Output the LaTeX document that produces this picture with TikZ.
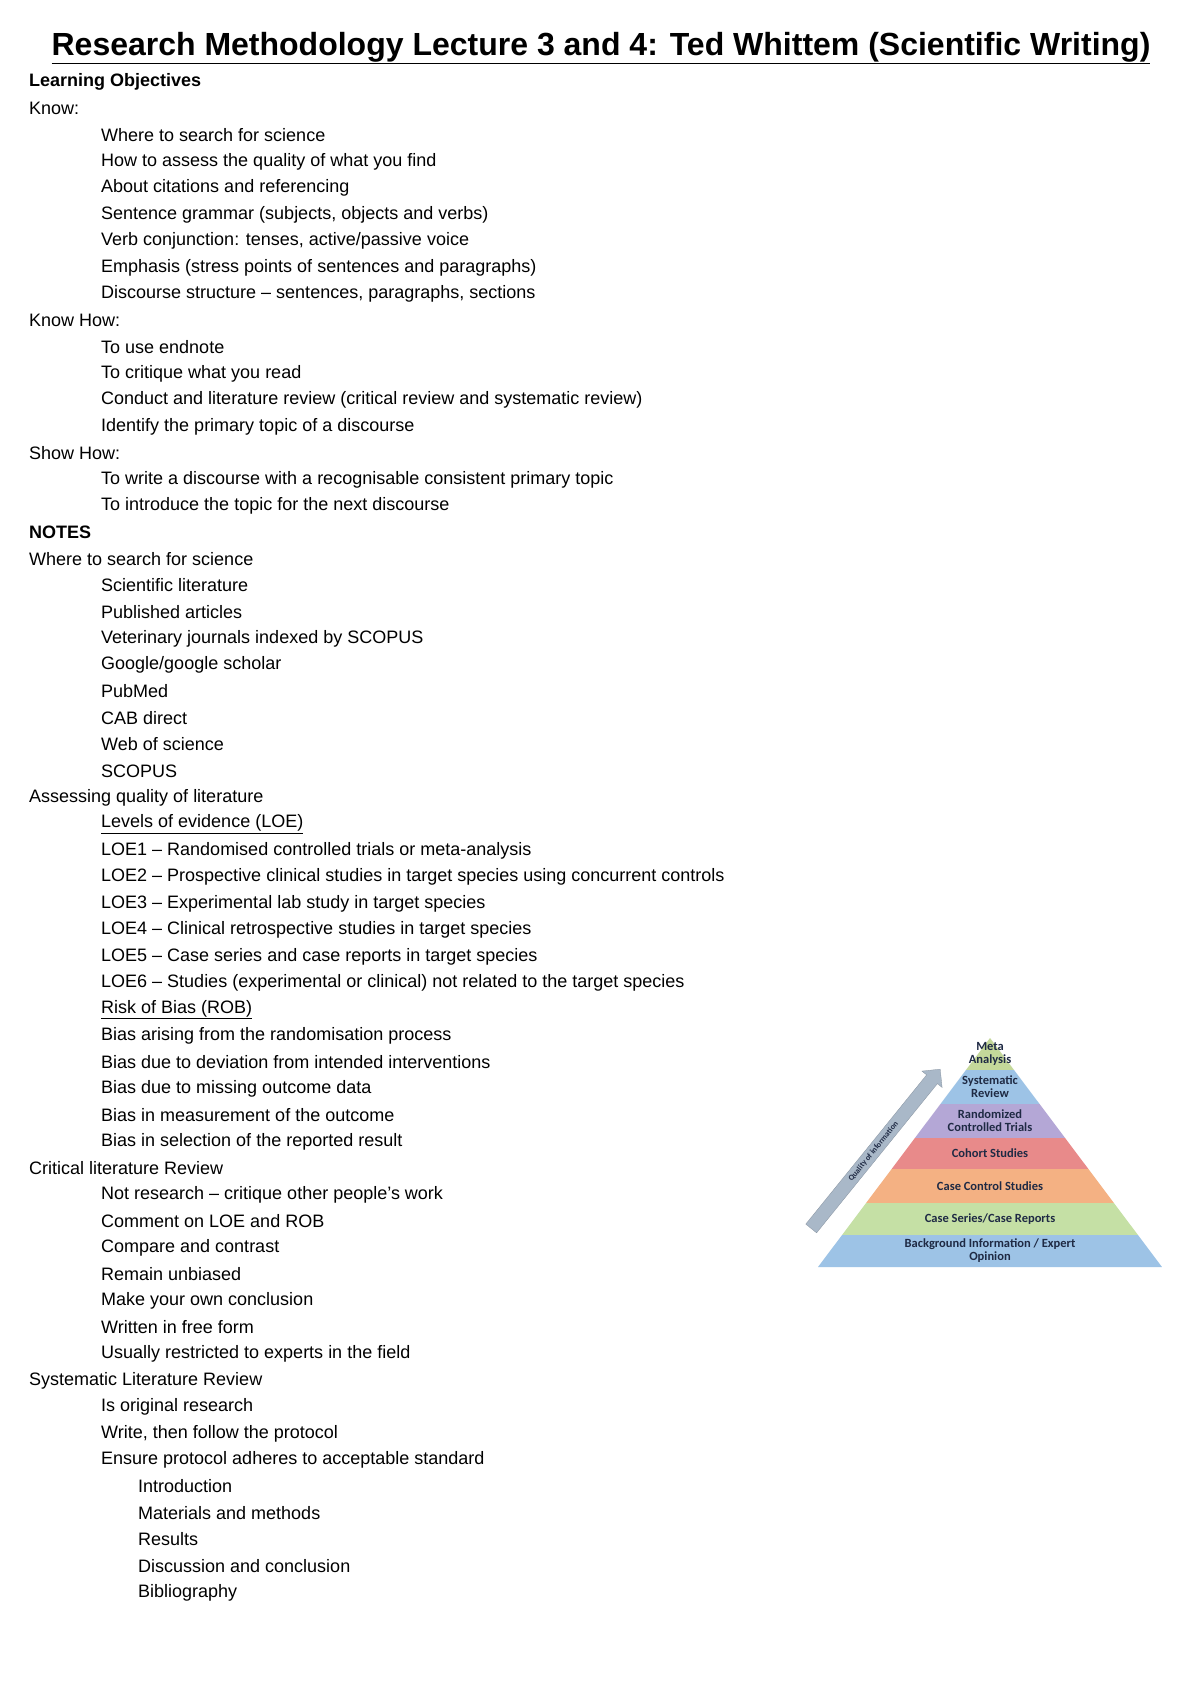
\documentclass[tikz,border=0pt]{standalone}
\usepackage{fontspec}
\setmainfont{Liberation Sans}
\newfontfamily\pyrfont{Carlito}
\usetikzlibrary{shapes.arrows}
\definecolor{gmeta}{HTML}{C4D89A}
\definecolor{bsys}{HTML}{9DC3E6}
\definecolor{prct}{HTML}{B4A7D6}
\definecolor{rcoh}{HTML}{E88A8A}
\definecolor{occ}{HTML}{F4B183}
\definecolor{gcs}{HTML}{C5E0A5}
\definecolor{bbg}{HTML}{9DC3E6}
\definecolor{ptxt}{HTML}{1F2A44}
\definecolor{arr}{HTML}{A9B8C8}
\newcommand\tline[3]{\node[txt] (l#1) at (#2,{82+26.5*#1}) {#3};}
\newcommand\band[5]{% #1 name, #2 ytop, #3 ybot, #4 color, #5 text
  \fill[#4] ({990-0.751*(#2-1038)},#2) -- ({990+0.751*(#2-1038)},#2) -- ({990+0.751*(#3-1038)},#3) -- ({990-0.751*(#3-1038)},#3) -- cycle;
  \node[ptext] (#1) at (990,{(#2+#3)/2}) {#5};}
\tikzset{
  txt/.style={anchor=west,inner sep=0pt,font=\fontsize{18}{20}\selectfont},
  ptext/.style={align=center,inner sep=0pt,text=ptxt,font=\pyrfont\bfseries\fontsize{12.5}{13}\selectfont}
}
\begin{document}
\begin{tikzpicture}[x=1pt,y=-1pt]
\useasboundingbox (0,0) rectangle (1200,1698);
\fill[white] (0,0) rectangle (1200,1698);
\node[inner sep=0pt,font=\bfseries\fontsize{32}{34}\selectfont] (title) at (601,48) {\underline{Research Methodology Lecture 3 and 4: Ted Whittem (Scientific Writing)}};
\tline{0}{29}{\bfseries Learning Objectives}
\tline{1}{29}{Know:}
\tline{2}{101}{Where to search for science}
\tline{3}{101}{How to assess the quality of what you find}
\tline{4}{101}{About citations and referencing}
\tline{5}{101}{Sentence grammar (subjects, objects and verbs)}
\tline{6}{101}{Verb conjunction: tenses, active/passive voice}
\tline{7}{101}{Emphasis (stress points of sentences and paragraphs)}
\tline{8}{101}{Discourse structure – sentences, paragraphs, sections}
\tline{9}{29}{Know How:}
\tline{10}{101}{To use endnote}
\tline{11}{101}{To critique what you read}
\tline{12}{101}{Conduct and literature review (critical review and systematic review)}
\tline{13}{101}{Identify the primary topic of a discourse}
\tline{14}{29}{Show How:}
\tline{15}{101}{To write a discourse with a recognisable consistent primary topic}
\tline{16}{101}{To introduce the topic for the next discourse}
\tline{17}{29}{\bfseries NOTES}
\tline{18}{29}{Where to search for science}
\tline{19}{101}{Scientific literature}
\tline{20}{101}{Published articles}
\tline{21}{101}{Veterinary journals indexed by SCOPUS}
\tline{22}{101}{Google/google scholar}
\tline{23}{101}{PubMed}
\tline{24}{101}{CAB direct}
\tline{25}{101}{Web of science}
\tline{26}{101}{SCOPUS}
\tline{27}{29}{Assessing quality of literature}
\tline{28}{101}{\underline{Levels of evidence (LOE)}}
\tline{29}{101}{LOE1 – Randomised controlled trials or meta-analysis}
\tline{30}{101}{LOE2 – Prospective clinical studies in target species using concurrent controls}
\tline{31}{101}{LOE3 – Experimental lab study in target species}
\tline{32}{101}{LOE4 – Clinical retrospective studies in target species}
\tline{33}{101}{LOE5 – Case series and case reports in target species}
\tline{34}{101}{LOE6 – Studies (experimental or clinical) not related to the target species}
\tline{35}{101}{\underline{Risk of Bias (ROB)}}
\tline{36}{101}{Bias arising from the randomisation process}
\tline{37}{101}{Bias due to deviation from intended interventions}
\tline{38}{101}{Bias due to missing outcome data}
\tline{39}{101}{Bias in measurement of the outcome}
\tline{40}{101}{Bias in selection of the reported result}
\tline{41}{29}{Critical literature Review}
\tline{42}{101}{Not research – critique other people’s work}
\tline{43}{101}{Comment on LOE and ROB}
\tline{44}{101}{Compare and contrast}
\tline{45}{101}{Remain unbiased}
\tline{46}{101}{Make your own conclusion}
\tline{47}{101}{Written in free form}
\tline{48}{101}{Usually restricted to experts in the field}
\tline{49}{29}{Systematic Literature Review}
\tline{50}{101}{Is original research}
\tline{51}{101}{Write, then follow the protocol}
\tline{52}{101}{Ensure protocol adheres to acceptable standard}
\tline{53}{138}{Introduction}
\tline{54}{138}{Materials and methods}
\tline{55}{138}{Results}
\tline{56}{138}{Discussion and conclusion}
\tline{57}{138}{Bibliography}
% pyramid
\band{p1}{1038}{1070}{gmeta}{Meta\\Analysis}
\band{p2}{1070}{1104}{bsys}{Systematic\\Review}
\band{p3}{1104}{1138}{prct}{Randomized\\Controlled Trials}
\band{p4}{1138}{1169}{rcoh}{Cohort Studies}
\band{p5}{1169}{1203}{occ}{Case Control Studies}
\band{p6}{1203}{1235}{gcs}{Case Series/Case Reports}
\band{p7}{1235}{1267}{bbg}{Background Information / Expert\\Opinion}
% arrow
\node[single arrow,fill=arr,draw=arr!80!black,line width=0.3pt,minimum height=205pt,minimum width=26pt,single arrow head extend=4pt,inner sep=1pt,rotate=51,font=\pyrfont\bfseries\fontsize{8}{9}\selectfont,text=ptxt] (arrow) at (873.5,1151.5) {Quality of information};
\end{tikzpicture}
\end{document}
